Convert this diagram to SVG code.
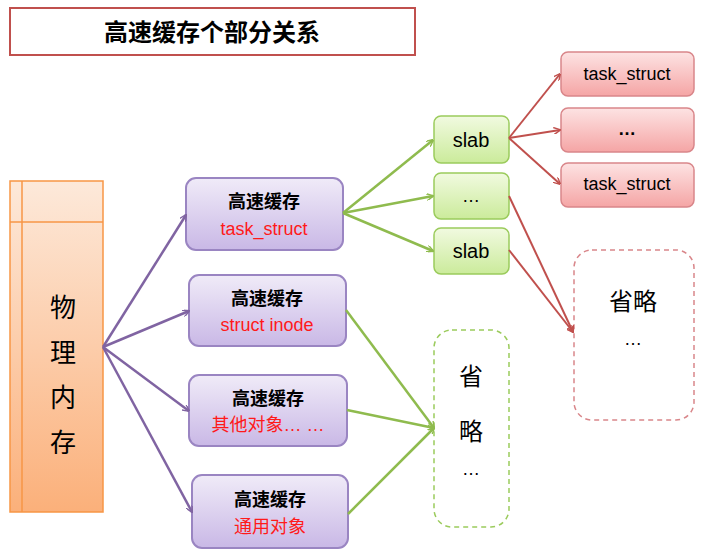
<svg xmlns="http://www.w3.org/2000/svg" width="720" height="550" viewBox="0 0 720 550">
<defs>
<linearGradient id="og" x1="0" y1="0" x2="0" y2="1"><stop offset="0" stop-color="#fde9da"/><stop offset="1" stop-color="#fbb07a"/></linearGradient>
<linearGradient id="pg" x1="0" y1="0" x2="0" y2="1"><stop offset="0" stop-color="#f0ebf8"/><stop offset="1" stop-color="#c9b8e6"/></linearGradient>
<linearGradient id="gg" x1="0" y1="0" x2="0" y2="1"><stop offset="0" stop-color="#f1fae0"/><stop offset="1" stop-color="#cbeb9b"/></linearGradient>
<linearGradient id="rg" x1="0" y1="0" x2="0" y2="1"><stop offset="0" stop-color="#fde3e3"/><stop offset="1" stop-color="#f5a5a5"/></linearGradient>
<marker id="ap" viewBox="0 0 10 10" refX="9" refY="5" markerWidth="7" markerHeight="7" orient="auto" markerUnits="userSpaceOnUse"><path d="M0,0 L10,5 L0,10" fill="none" stroke="#8064a2" stroke-width="2"/></marker>
<marker id="ag" viewBox="0 0 10 10" refX="9" refY="5" markerWidth="7" markerHeight="7" orient="auto" markerUnits="userSpaceOnUse"><path d="M0,0 L10,5 L0,10" fill="none" stroke="#8fbb4e" stroke-width="2"/></marker>
<marker id="ar" viewBox="0 0 10 10" refX="9" refY="5" markerWidth="7" markerHeight="7" orient="auto" markerUnits="userSpaceOnUse"><path d="M0,0 L10,5 L0,10" fill="none" stroke="#c0504d" stroke-width="2"/></marker>
</defs>
<style>
text{font-family:"Liberation Sans","Noto Sans CJK SC",sans-serif;text-anchor:middle}
.p{fill:url(#pg);stroke:#9a85c2;stroke-width:2}
.g{fill:url(#gg);stroke:#9bcb5c;stroke-width:1.5}
.r{fill:url(#rg);stroke:#d9868a;stroke-width:1.5}
.k{font-size:18px;font-weight:bold;fill:#000}
.s{font-size:18px;fill:#ff1a1a}
.t{font-size:18px;fill:#000}
.lp{stroke:#8064a2;stroke-width:2.5;fill:none;marker-end:url(#ap)}
.lg{stroke:#8fbb4e;stroke-width:2.5;fill:none;marker-end:url(#ag)}
.lr{stroke:#c0504d;stroke-width:2;fill:none;marker-end:url(#ar)}
</style>
<g id="title"><rect x="10" y="8" width="405" height="47" fill="#fff" stroke="#c0504d" stroke-width="2"/><text x="212" y="41" style="font-size:24px;font-weight:bold">高速缓存个部分关系</text></g>
<g id="mem"><rect x="10" y="181" width="93" height="331" fill="url(#og)" stroke="#f79646" stroke-width="1.5"/><line x1="22" y1="181" x2="22" y2="512" stroke="#f79646" stroke-width="1.5"/><line x1="10" y1="222" x2="103" y2="222" stroke="#f79646" stroke-width="1.5"/>
<text x="63" y="317" style="font-size:26px">物</text><text x="63" y="362" style="font-size:26px">理</text><text x="63" y="407" style="font-size:26px">内</text><text x="63" y="452" style="font-size:26px">存</text></g>
<g id="c1"><rect class="p" x="186" y="178" width="157" height="72" rx="10"/><text class="k" x="264" y="208">高速缓存</text><text class="s" x="264" y="235">task_struct</text></g>
<g id="c2"><rect class="p" x="189" y="275" width="157" height="71" rx="10"/><text class="k" x="267" y="305">高速缓存</text><text class="s" x="267" y="331">struct inode</text></g>
<g id="c3"><rect class="p" x="189" y="375" width="158" height="71" rx="10"/><text class="k" x="268" y="405">高速缓存</text><text class="s" x="268" y="431">其他对象… …</text></g>
<g id="c4"><rect class="p" x="192" y="475" width="156" height="73" rx="10"/><text class="k" x="270" y="506">高速缓存</text><text class="s" x="270" y="533">通用对象</text></g>
<g id="s1"><rect class="g" x="434" y="116" width="75" height="47" rx="7"/><text class="t" x="471" y="147" style="font-size:20px">slab</text></g>
<g id="s2"><rect class="g" x="434" y="173" width="75" height="46" rx="7"/><text class="t" x="471" y="202">…</text></g>
<g id="s3"><rect class="g" x="434" y="228" width="75" height="46" rx="7"/><text class="t" x="471" y="258" style="font-size:20px">slab</text></g>
<g id="t1"><rect class="r" x="561" y="52" width="133" height="44" rx="7"/><text class="t" x="627" y="80">task_struct</text></g>
<g id="t2"><rect class="r" x="561" y="108" width="133" height="44" rx="7"/><text class="t" x="627" y="135" style="font-weight:bold">…</text></g>
<g id="t3"><rect class="r" x="561" y="163" width="133" height="44" rx="7"/><text class="t" x="627" y="190">task_struct</text></g>
<g id="o1"><rect x="574" y="250" width="120" height="170" rx="18" fill="#fff" stroke="#d9868a" stroke-width="1.5" stroke-dasharray="5,4"/><text x="633" y="310" style="font-size:24px">省略</text><text x="633" y="345" style="font-size:18px">…</text></g>
<g id="o2"><rect x="434" y="330" width="75" height="197" rx="18" fill="#fff" stroke="#9bcb5c" stroke-width="1.5" stroke-dasharray="5,4"/><text x="471" y="385" style="font-size:24px">省</text><text x="471" y="440" style="font-size:24px">略</text><text x="471" y="475" style="font-size:18px">…</text></g>
<g id="connectors">
<path class="lp" d="M103,347 L186,215"/><path class="lp" d="M103,347 L189,311"/><path class="lp" d="M103,347 L189,411"/><path class="lp" d="M103,347 L192,512"/>
<path class="lg" d="M343,213 L433,140"/><path class="lg" d="M343,213 L433,196"/><path class="lg" d="M343,213 L433,251"/>
<path class="lg" d="M346,310 L434,428"/><path class="lg" d="M347,410 L434,428"/><path class="lg" d="M348,514 L434,428"/>
<path class="lr" d="M509,138 L560,74"/><path class="lr" d="M509,138 L560,130"/><path class="lr" d="M509,138 L560,184"/>
<path class="lr" d="M509,196 L573,332"/><path class="lr" d="M509,250 L573,332"/>
</g>
</svg>
